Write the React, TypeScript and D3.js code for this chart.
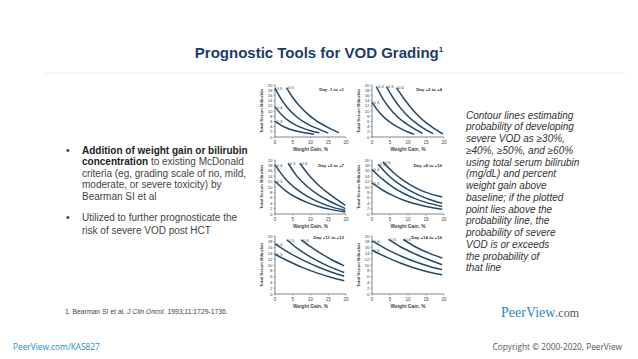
import * as d3 from 'd3';

// Panel titles, one per time window
const panelTitles = ['Day -1 to +1', 'Day +2 to +4', 'Day +5 to +7', 'Day +8 to +10', 'Day +11 to +13', 'Day +14 to +16'];
const contourLevels = ['0.3', '0.4', '0.5', '0.6'];
const xTickValues = [0, 5, 10, 15, 20];
const yTickValues = [0, 2, 4, 6, 8, 10, 12, 14, 16, 18, 20];

// [weight gain %, total serum bilirubin]
const dayM1to1 = [
  [[0, 6], [2, 4.3], [4, 3.1], [6, 2.3], [8, 1.7], [11, 1.1]],
  [[0, 11.5], [2, 8.4], [4, 6.1], [6, 4.5], [8, 3.3], [10, 2.4], [12.5, 1.6]],
  [[0, 18.7], [2, 14], [4, 10.5], [6, 7.9], [8, 5.9], [10, 4.4], [12, 3.2], [15, 1.5]],
  [[3.2, 19], [5, 15.2], [7, 11.8], [9, 9.1], [11, 6.9], [13, 5.1], [15, 3.6], [18, 1.7]],
];
const dayP2to4 = [
  [[0, 13.3], [2, 9.5], [4, 6.8], [6, 4.8], [8, 3.2], [10, 1.9], [11.7, 1]],
  [[1.2, 19.4], [3, 14.8], [5, 10.9], [7, 7.9], [9, 5.6], [11, 3.8], [14, 1.4]],
  [[4, 19.4], [6, 14.8], [8, 11], [10, 8], [12, 5.6], [14, 3.6], [17, 1.3]],
  [[6.8, 19], [9, 14.5], [11, 11], [13, 8], [15, 5.5], [17, 3.5], [19.7, 1.2]],
];
const dayP5to7 = [
  [[0, 12.1], [3, 8.6], [6, 6.1], [9, 4.3], [12, 2.9], [15, 1.9], [19.8, 0.7]],
  [[0, 18.2], [3, 12.9], [6, 9.3], [9, 6.6], [12, 4.6], [15, 3], [19.8, 1.3]],
  [[3.7, 18.8], [6, 14.3], [9, 10.3], [12, 7.3], [15, 5], [17.5, 3.4], [19.8, 2]],
  [[7, 18.8], [9, 15.3], [11, 12.3], [13, 9.8], [15, 7.7], [17.5, 5.3], [19.8, 3.2]],
];
const dayP8to10 = [
  [[0, 11.5], [3, 8.8], [6, 6.7], [9, 5], [12, 3.8], [15, 2.8], [19.5, 1.8]],
  [[0, 16.5], [3, 12.8], [6, 9.8], [9, 7.5], [12, 5.7], [15, 4.3], [19.5, 2.8]],
  [[1.7, 18.4], [4, 15], [7, 11.6], [10, 9], [13, 7], [16, 5.4], [19.5, 4]],
  [[3, 19.3], [6, 15.3], [9, 12.2], [12, 9.8], [15, 8], [19.5, 6.3]],
];
const dayP11to13 = [
  [[0, 13.7], [4, 11.2], [8, 9], [12, 7.2], [16, 5.7], [19.5, 4.6]],
  [[0, 17.3], [4, 14.2], [8, 11.6], [12, 9.4], [16, 7.5], [19.5, 6.1]],
  [[3.3, 18.7], [6, 16], [9, 13.5], [12, 11.4], [15, 9.6], [19.5, 7.4]],
  [[7.4, 18.7], [10, 16.3], [13, 13.9], [16, 11.8], [19.5, 9.7]],
];
const dayP14to16 = [
  [[0, 15.1], [4, 12.7], [8, 10.6], [12, 8.9], [16, 7.5], [19.5, 6.6]],
  [[0, 18.3], [4, 15.5], [8, 13.1], [12, 11.1], [16, 9.5], [19.5, 8.4]],
  [[4.6, 18.8], [8, 16.2], [12, 13.8], [16, 11.7], [19.5, 10.1]],
  [[8.7, 18.8], [12, 16.3], [16, 14], [19.5, 12.4]],
];
const panelCurves = [dayM1to1, dayP2to4, dayP5to7, dayP8to10, dayP11to13, dayP14to16];

const bulletOne = [
  [{ t: 'Addition of weight gain or bilirubin', b: true }],
  [{ t: 'concentration', b: true }, { t: ' to existing McDonald', b: false }],
  [{ t: 'criteria (eg, grading scale of no, mild,', b: false }],
  [{ t: 'moderate, or severe toxicity) by', b: false }],
  [{ t: 'Bearman SI et al', b: false }],
];
const bulletTwo = ['Utilized to further prognosticate the', 'risk of severe VOD post HCT'];
const noteLines = [
  'Contour lines estimating',
  'probability of developing',
  'severe VOD as \u226530%,',
  '\u226540%, \u226550%, and \u226560%',
  'using total serum bilirubin',
  '(mg/dL) and percent',
  'weight gain above',
  'baseline; if the plotted',
  'point lies above the',
  'probability line, the',
  'probability of severe',
  'VOD is or exceeds',
  'the probability of',
  'that line',
];

const colX = [[275, 346], [372, 444]];
const rowY = [[85, 137], [160, 214], [236, 294]];
const titleDy = [6, 6.5, 2.5];
const font = '"Liberation Sans", Arial, sans-serif';
const curveColor = '#234868';
const axisColor = '#555';

function Panel({ index }: { index: number }) {
  const row = Math.floor(index / 2);
  const [x0, x1] = colX[index % 2];
  const [y0, y1] = rowY[row];
  const x = d3.scaleLinear().domain([0, 20]).range([x0, x1]);
  const y = d3.scaleLinear().domain([0, 20]).range([y1, y0]);
  const line = d3.line<number[]>()
    .x(d => x(d[0]))
    .y(d => y(d[1]))
    .curve(d3.curveMonotoneX);

  return (
    <g fontFamily={font}>
      {/* axes */}
      <line x1={x0} x2={x0} y1={y(20)} y2={y1} stroke={axisColor} strokeWidth={0.7} />
      <line x1={x0} x2={x1} y1={y1} y2={y1} stroke={axisColor} strokeWidth={0.7} />
      {yTickValues.map(v => (
        <g key={'y' + v}>
          <line x1={x0 - 1.5} x2={x0} y1={y(v)} y2={y(v)} stroke={axisColor} strokeWidth={0.5} />
          <text x={x0 - 2.5} y={y(v) + 1.5} fontSize={4.3} textAnchor="end" fill="#444">{v}</text>
        </g>
      ))}
      {xTickValues.map(v => (
        <g key={'x' + v}>
          <line x1={x(v)} x2={x(v)} y1={y1} y2={y1 + 1.5} stroke={axisColor} strokeWidth={0.5} />
          <text x={x(v)} y={y1 + 7} fontSize={4.6} textAnchor="middle" fill="#444">{v}</text>
        </g>
      ))}
      <text x={(x0 + x1) / 2} y={y1 + 14} fontSize={4.8} fontWeight="bold" textAnchor="middle" fill="#444">Weight Gain, %</text>
      <text
        transform={`translate(${x0 - 12},${(y(20) + y1) / 2}) rotate(-90)`}
        fontSize={4.4} fontWeight="bold" textAnchor="middle" fill="#444"
      >Total Serum Bilirubin</text>
      <text x={x1 - 2} y={y0 + titleDy[row]} fontSize={4.4} fontWeight="bold" textAnchor="end" fill="#333">{panelTitles[index]}</text>
      {/* contour lines */}
      {panelCurves[index].map((pts, i) => (
        <g key={i}>
          <path d={line(pts) || ''} fill="none" stroke={curveColor} strokeWidth={1.5} />
          <text x={x(pts[0][0]) + 1.6} y={y(pts[0][1]) + 1.8} fontSize={4.2} fill="#444">{contourLevels[i]}</text>
        </g>
      ))}
    </g>
  );
}

export default function App() {
  return (
    <svg width={638} height={359} style={{ position: 'absolute', left: 0, top: 0, background: '#fff' }}>
      <rect width={638} height={359} fill="#fff" />
      <text x={319} y={58} textAnchor="middle" fontFamily={font} fontSize={15} fontWeight="bold" fill="#1c3d6b">
        Prognostic Tools for VOD Grading<tspan fontSize={8} dy={-6}>1</tspan>
      </text>
      <line x1={45} x2={626} y1={73} y2={73} stroke="#eef0ea" strokeWidth={1} />

      {/* left bullets */}
      <g fontFamily={font} fontSize={10} fill="#333">
        <text x={66} y={153.5}>•</text>
        {bulletOne.map((ln, i) => (
          <text key={i} x={82} y={153.5 + i * 11.6}>
            {ln.map((s, j) => (
              <tspan key={j} fontWeight={s.b ? 'bold' : 'normal'} fill={s.b ? '#222' : '#444'}>{s.t}</tspan>
            ))}
          </text>
        ))}
        <text x={66} y={220.5}>•</text>
        {bulletTwo.map((t, i) => (
          <text key={i} x={82} y={220.5 + i * 13.4} fill="#444">{t}</text>
        ))}
      </g>

      {[0, 1, 2, 3, 4, 5].map(i => <Panel key={i} index={i} />)}

      {/* right note */}
      <g fontFamily={font} fontSize={10} fontStyle="italic" fill="#333">
        {noteLines.map((t, i) => (
          <text key={i} x={466} y={118.5 + i * 11.75}>{t}</text>
        ))}
      </g>

      <text x={65} y={314} fontFamily={font} fontSize={6.8} fill="#444">
        1. Bearman SI et al. <tspan fontStyle="italic">J Clin Oncol</tspan>. 1993;11:1729-1736.
      </text>
      <text x={501} y={317} fontFamily='"Liberation Serif", "DejaVu Serif", serif' fontSize={14} fill="#2c86c4">
        PeerView<tspan fill="#555" fontSize={12}>.com</tspan>
      </text>
      <text x={13} y={350} fontFamily='"Open Sans", sans-serif' fontSize={8.3} fill="#2a8ac2">PeerView.com/KAS827</text>
      <text x={622} y={350} textAnchor="end" fontFamily='"Open Sans", sans-serif' fontSize={8.3} fill="#555">Copyright © 2000-2020, PeerView</text>
    </svg>
  );
}
